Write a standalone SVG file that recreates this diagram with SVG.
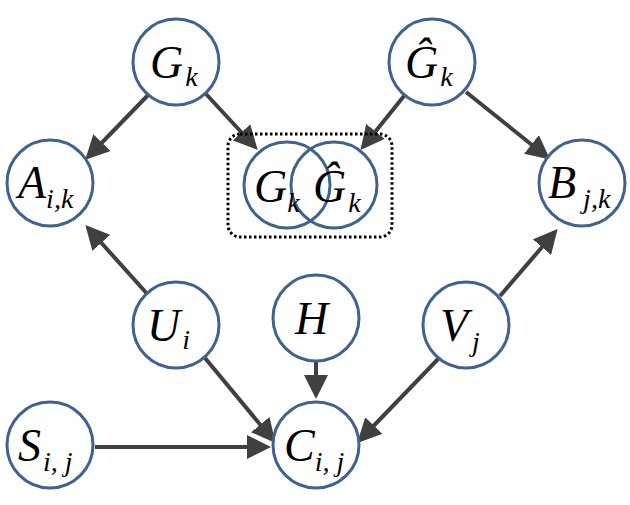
<svg xmlns="http://www.w3.org/2000/svg" width="630" height="505" viewBox="0 0 630 505">
<style>
.n{fill:#fff;stroke:#41628f;stroke-width:3}
.o{fill:none;stroke:#41628f;stroke-width:3}
.t{font-family:"Liberation Serif",serif;font-style:italic;font-size:46px;fill:#000}
.s{font-size:28px}
.e{stroke:#404040;stroke-width:4;fill:none;marker-end:url(#a)}
</style>
<defs><marker id="a" markerWidth="6" markerHeight="6" refX="5" refY="3" orient="auto" markerUnits="strokeWidth"><path d="M0,0 L6,3 L0,6 z" fill="#404040"/></marker></defs>
<rect width="630" height="505" fill="#fff"/>
<g id="edges">
<line class="e" x1="152" y1="91" x2="88" y2="157"/>
<line class="e" x1="206" y1="94" x2="255" y2="147"/>
<line class="e" x1="408" y1="91" x2="363" y2="147"/>
<line class="e" x1="466" y1="92" x2="547" y2="157"/>
<line class="e" x1="150" y1="297" x2="88" y2="228"/>
<line class="e" x1="500" y1="296" x2="555" y2="232"/>
<line class="e" x1="205" y1="358" x2="273" y2="440"/>
<line class="e" x1="316" y1="362" x2="316" y2="395"/>
<line class="e" x1="441" y1="356" x2="360" y2="440"/>
<line class="e" x1="95" y1="447" x2="267" y2="447"/>
</g>
<g id="Gk"><circle class="n" cx="176" cy="62" r="43"/><text class="t" x="150" y="78">G<tspan class="s" dx="2" dy="8">k</tspan></text></g>
<g id="Ghk"><circle class="n" cx="432" cy="62" r="43"/><text class="t" x="405" y="78">Ĝ<tspan class="s" dx="2" dy="8">k</tspan></text></g>
<g id="Aik"><circle class="n" cx="50" cy="183" r="43"/><text class="t" x="18" y="198">A<tspan class="s" dy="10">i,k</tspan></text></g>
<g id="Bjk"><circle class="n" cx="582" cy="183" r="43"/><text class="t" x="548" y="198">B<tspan class="s" dy="10"> j,k</tspan></text></g>
<g id="overlap">
<rect x="228" y="134" width="164" height="103" rx="12" fill="none" stroke="#000" stroke-width="3" stroke-dasharray="2.5,2.5"/>
<circle class="o" cx="287" cy="185" r="43"/><circle class="o" cx="334" cy="185" r="43"/>
<text class="t" x="254" y="202">G<tspan class="s" dy="10">k</tspan></text>
<text class="t" x="313" y="202">Ĝ<tspan class="s" dx="2" dy="10">k</tspan></text>
</g>
<g id="Ui"><circle class="n" cx="176" cy="325" r="43"/><text class="t" x="147" y="341">U<tspan class="s" dx="2" dy="8">i</tspan></text></g>
<g id="H"><circle class="n" cx="316" cy="318" r="43"/><text class="t" x="295" y="334">H</text></g>
<g id="Vj"><circle class="n" cx="466" cy="325" r="43"/><text class="t" x="440" y="341">V<tspan class="s" dx="4" dy="10">j</tspan></text></g>
<g id="Sij"><circle class="n" cx="50" cy="445" r="43"/><text class="t" x="18" y="461">S<tspan class="s" dx="2" dy="10">i, j</tspan></text></g>
<g id="Cij"><circle class="n" cx="316" cy="445" r="43"/><text class="t" x="284" y="461">C<tspan class="s" dy="10">i, j</tspan></text></g>
</svg>
